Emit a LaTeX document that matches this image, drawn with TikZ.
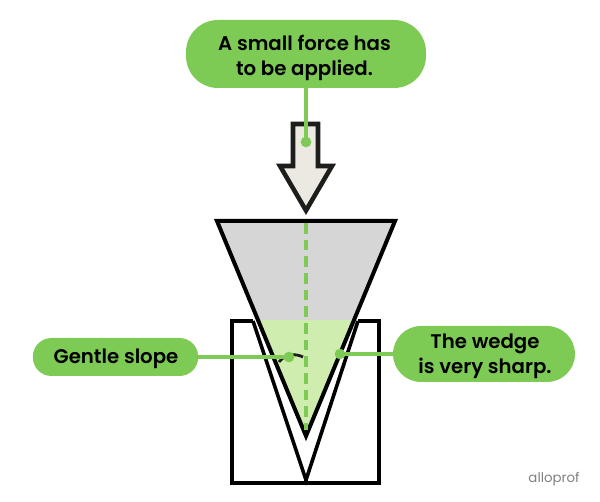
\documentclass[tikz,border=0pt]{standalone}
\usepackage{fontspec}
\setmainfont{Poppins}[BoldFont={Poppins SemiBold}]
\definecolor{lgreen}{HTML}{7DCB55}
\definecolor{pale}{HTML}{CFEDAE}
\definecolor{wgray}{HTML}{D6D6D6}
\definecolor{cream}{HTML}{ECE8E2}
\definecolor{ink}{HTML}{1D1D1B}
\tikzset{
  bubble/.style={fill=lgreen,rounded corners=#1,inner sep=0pt},
  bubtext/.style={inner sep=0pt,align=center,font=\bfseries\fontsize{14.8pt}{18.75pt}\selectfont,text=black},
  leader/.style={draw=lgreen,line width=2.3pt},
  dotmark/.style={circle,fill=lgreen,minimum size=8pt,inner sep=0pt},
}
\begin{document}
\begin{tikzpicture}[x=0.75pt,y=-0.75pt]
\useasboundingbox (0,0) rectangle (600,502);
% block
\fill[white] (253,321) -- (358,321) -- (306,480) -- cycle;
\draw[black,line width=2.7pt,line join=miter] (253,321) -- (232,321) -- (232,483) -- (379,483) -- (379,321) -- (358,321);
\draw[black,line width=2.7pt] (253,321) -- (306,480) -- (358,321);
\draw[black,line width=2.7pt] (306,480) -- (306,483);
% wedge
\fill[wgray] (217,221) -- (395,221) -- (306,436) -- cycle;
\fill[pale] (258,320) -- (354,320) -- (306,436) -- cycle;
\draw[black,line width=3pt,miter limit=10] (217,221) -- (395,221) -- (306,436) -- cycle;
% arrow
\draw[ink,fill=cream,line width=3.4pt,miter limit=10] (293,124) -- (318,124) -- (318,166) -- (332,166) -- (306,210.5) -- (280,166) -- (293,166) -- cycle;
% centre line
\coordinate (ct) at (306,223);
\coordinate (cb) at (306,430);
\draw[lgreen,line width=2.3pt,dash pattern=on 8pt off 4.5pt] (ct) -- (cb);
% angle
\draw[ink,line width=2.1pt] (279,362) .. controls (285,354) and (295,353) .. (303,357);
% bubbles
\node[bubble=24pt,minimum width=180pt,minimum height=51pt] (top) at (306,54) {};
\node[bubble=14pt,minimum width=124pt,minimum height=28.5pt] (left) at (115.5,357) {};
\node[bubble=21pt,minimum width=136.5pt,minimum height=42pt] (right) at (484,354) {};
\node[bubtext] (toptext) at (304.5,58) {A small force has\\to be applied.};
\node[bubtext] (lefttext) at (116,359) {Gentle slope};
\node[bubtext] (righttext) at (485,356) {The wedge\\is very sharp.};
% dots
\node[dotmark] (d1) at (306,142) {};
\node[dotmark] (d2) at (289,357) {};
\node[dotmark] (d3) at (340,354) {};
\draw[leader] (top.south -| d1) -- (d1.center);
\draw[leader] (left.east |- d2) -- (d2.center);
\draw[leader] (right.west |- d3) -- (d3.center);
\node[text=black!50,font=\fontsize{10pt}{12pt}\selectfont,inner sep=0pt] (logo) at (554,479) {alloprof};
\end{tikzpicture}
\end{document}
